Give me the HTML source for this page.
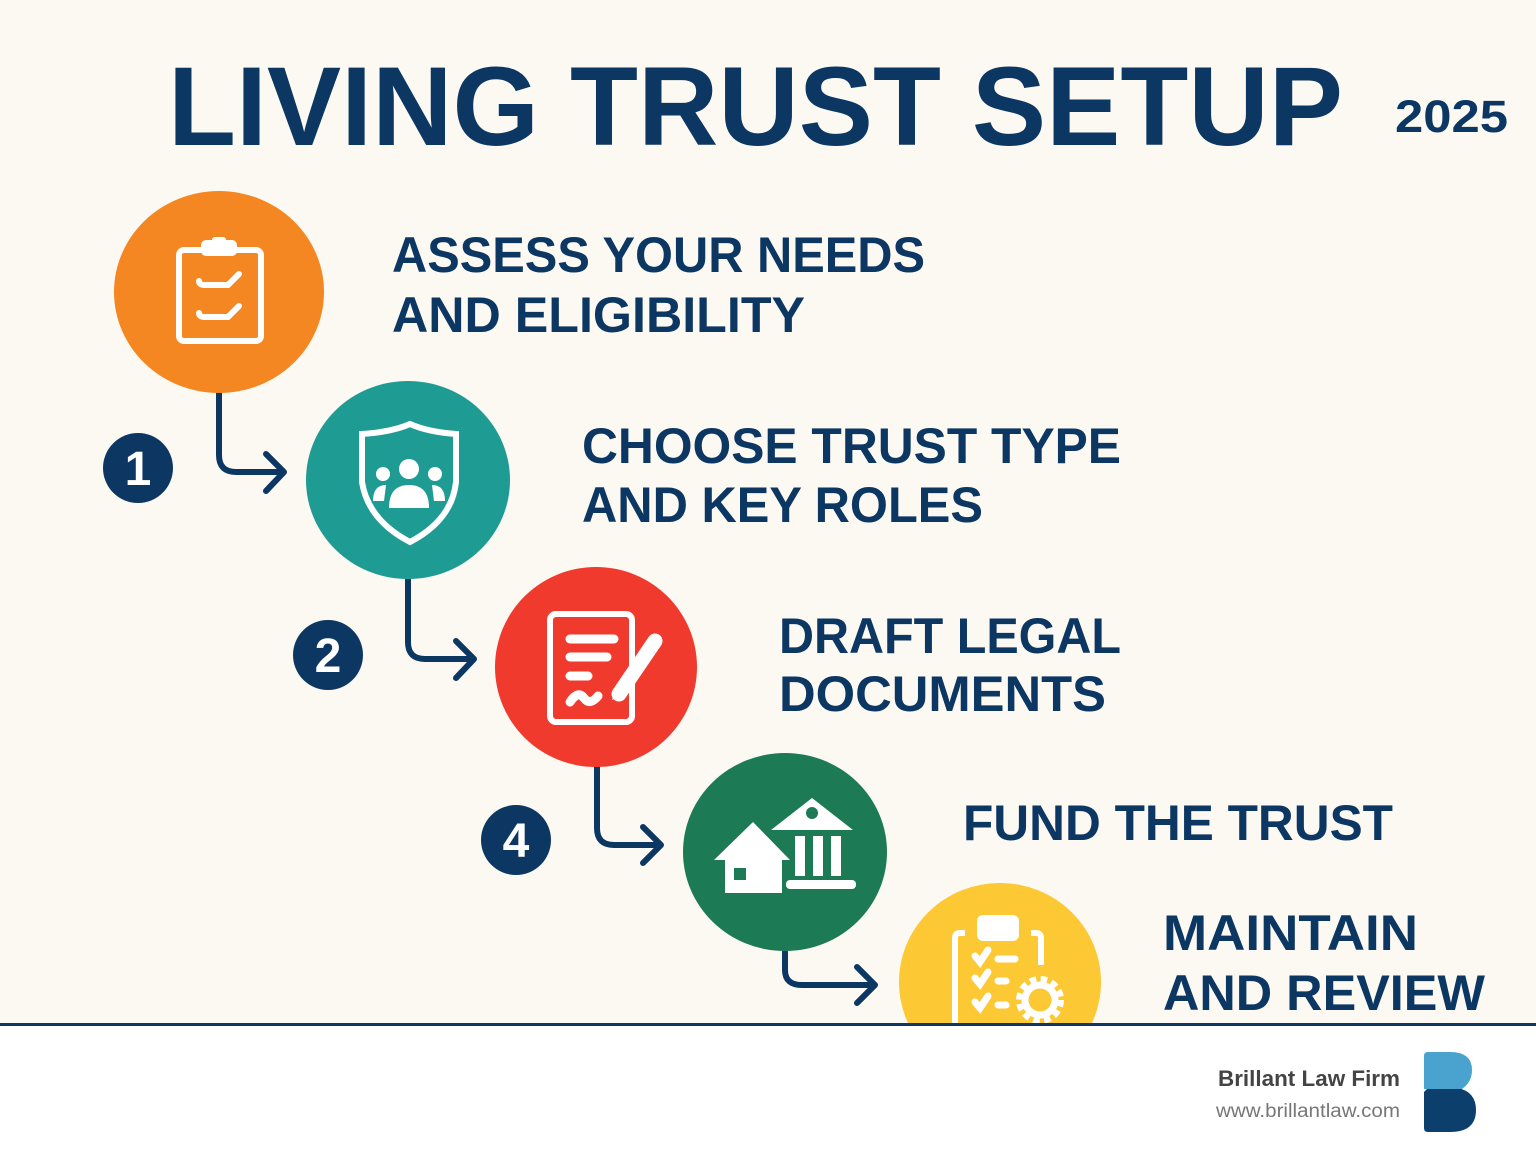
<!DOCTYPE html>
<html><head><meta charset="utf-8"><style>
html,body{margin:0;padding:0;width:1536px;height:1154px;overflow:hidden;background:#fcf9f3}
svg{display:block}
text{font-family:"Liberation Sans",sans-serif;font-weight:bold}
</style></head><body>
<svg width="1536" height="1154" viewBox="0 0 1536 1154" xmlns="http://www.w3.org/2000/svg">
<rect width="1536" height="1154" fill="#fcf9f3"/>
<defs><clipPath id="top"><rect x="0" y="0" width="1536" height="1025"/></clipPath></defs>

<text x="168" y="145" font-size="112" fill="#0d3763" textLength="1175" lengthAdjust="spacingAndGlyphs">LIVING TRUST SETUP</text>
<text x="1395" y="132" font-size="45" fill="#0d3763" textLength="113" lengthAdjust="spacingAndGlyphs">2025</text>

<g fill="#0d3763" font-size="50">
<text x="392" y="272" textLength="533" lengthAdjust="spacingAndGlyphs">ASSESS YOUR NEEDS</text>
<text x="392" y="332" textLength="413" lengthAdjust="spacingAndGlyphs">AND ELIGIBILITY</text>
<text x="582" y="463" textLength="539" lengthAdjust="spacingAndGlyphs">CHOOSE TRUST TYPE</text>
<text x="582" y="522" textLength="401" lengthAdjust="spacingAndGlyphs">AND KEY ROLES</text>
<text x="779" y="653" textLength="342" lengthAdjust="spacingAndGlyphs">DRAFT LEGAL</text>
<text x="779" y="711" textLength="327" lengthAdjust="spacingAndGlyphs">DOCUMENTS</text>
<text x="963" y="840" textLength="430" lengthAdjust="spacingAndGlyphs">FUND THE TRUST</text>
<text x="1163" y="950" textLength="255" lengthAdjust="spacingAndGlyphs">MAINTAIN</text>
<text x="1163" y="1010" textLength="322" lengthAdjust="spacingAndGlyphs">AND REVIEW</text>
</g>

<!-- connectors -->
<g fill="none" stroke="#0d3763" stroke-width="6" stroke-linecap="round" stroke-linejoin="round">
<path d="M219 393 V455 Q219 472 236 472 H283"/><path d="M266 454 L284 472 L266 491"/>
<path d="M408 580 V642 Q408 659 425 659 H473"/><path d="M456 641 L474 659 L456 678"/>
<path d="M597 767 V828 Q597 845 614 845 H660"/><path d="M643 827 L661 845 L643 863"/>
<path d="M785 952 V970 Q785 985 802 985 H874"/><path d="M857 967 L875 985 L857 1003"/>
</g>

<!-- badges -->
<g fill="#0d3763"><circle cx="138" cy="468" r="35"/><circle cx="328" cy="655" r="35"/><circle cx="516" cy="840" r="35"/></g>
<g fill="#fff" font-size="48" text-anchor="middle"><text x="138" y="485">1</text><text x="328" y="672">2</text><text x="516" y="857">4</text></g>

<!-- circle 1 -->
<ellipse cx="219" cy="292" rx="105" ry="101" fill="#f58722"/>
<g fill="none" stroke="#fff" stroke-width="6" stroke-linecap="round">
<rect x="179" y="250" width="82" height="91" rx="5"/>
<path d="M199 281 Q199 285 205 285 H228 L239 274"/><path d="M199 313 Q199 317 205 317 H228 L239 306"/>
</g>
<rect x="201" y="240" width="36" height="16" rx="5" fill="#fff"/><rect x="212" y="237" width="14" height="6" rx="3" fill="#fff"/>

<!-- circle 2 -->
<ellipse cx="408" cy="480" rx="102" ry="99" fill="#1e9c94"/>
<path d="M362 434 Q392 432 410 424 Q428 432 456 434 V482 Q452 520 410 542 Q368 520 362 482 Z" fill="none" stroke="#fff" stroke-width="6"/>
<g fill="#fff"><circle cx="409" cy="469" r="10"/><circle cx="383" cy="474" r="7"/><circle cx="435" cy="474" r="7"/>
<path d="M389 508 Q389 485 409 485 Q429 485 429 508 Z"/><path d="M373 501 Q373 485 386 485 L384 501 Z"/><path d="M445 501 Q445 485 432 485 L434 501 Z"/></g>

<!-- circle 3 -->
<ellipse cx="596" cy="667" rx="101" ry="100" fill="#f03a2e"/>
<rect x="550" y="614" width="82" height="108" rx="6" fill="none" stroke="#fff" stroke-width="6"/>
<g stroke="#fff" stroke-width="9" stroke-linecap="round" fill="none">
<path d="M570 639 H614"/><path d="M570 657 H607"/><path d="M570 676 H588"/>
<path d="M570 702 Q578 690 584 698 Q590 706 598 696"/>
<path d="M655 641 L619 694" stroke-width="15"/></g>
<path d="M612 700 L616 688 L625 694 Z" fill="#fff"/>

<!-- circle 4 -->
<ellipse cx="785" cy="852" rx="102" ry="99" fill="#1c7a54"/>
<g fill="#fff"><path d="M771 830 L812 798 L853 830 Z"/><circle cx="812" cy="813" r="6" fill="#1c7a54"/>
<rect x="795" y="836" width="10" height="40"/><rect x="813" y="836" width="10" height="40"/><rect x="831" y="836" width="10" height="40"/>
<rect x="786" y="880" width="70" height="9" rx="4"/>
<path d="M714 860 L753 822 L790 860 H782 V893 H725 V860 Z"/></g>
<rect x="734" y="868" width="12" height="12" fill="#1c7a54"/>

<!-- circle 5 -->
<g clip-path="url(#top)">
<ellipse cx="1000" cy="982" rx="101" ry="99" fill="#fcc834"/>
<g fill="none" stroke="#fff" stroke-width="6"><path d="M955 1030 V938 Q955 933 960 933 H965"/><path d="M1031 933 H1036 Q1041 933 1041 938 V965"/></g>
<rect x="977" y="915" width="42" height="26" rx="6" fill="#fff"/>
<g stroke="#fff" stroke-width="7" stroke-linecap="round" fill="none"><path d="M975 956 L980 962 L988 950"/><path d="M975 978 L980 984 L988 972"/><path d="M975 1002 L980 1008 L988 996"/>
<path d="M998 959 H1015"/><path d="M998 981 H1006"/><path d="M998 1005 H1006"/></g>
<circle cx="1040" cy="1000" r="19" fill="none" stroke="#fff" stroke-width="10" stroke-dasharray="6 4"/>
<circle cx="1040" cy="1000" r="15" fill="none" stroke="#fff" stroke-width="7"/>
</g>

<!-- footer -->
<rect x="0" y="1026" width="1536" height="128" fill="#fff"/>
<rect x="0" y="1023" width="1536" height="3" fill="#0d3763"/>
<text x="1400" y="1086" font-size="22" fill="#444" text-anchor="end" textLength="182" lengthAdjust="spacingAndGlyphs">Brillant Law Firm</text>
<text x="1400" y="1117" font-size="19" fill="#777" text-anchor="end" textLength="184" lengthAdjust="spacingAndGlyphs" style="font-weight:normal">www.brillantlaw.com</text>
<path d="M1424 1092 V1128 Q1424 1132 1428 1132 H1450 Q1476 1132 1476 1110 Q1476 1092 1458 1088 H1428 Z" fill="#0d3f6c"/>
<path d="M1424 1089 V1056 Q1424 1052 1428 1052 H1450 Q1472 1052 1472 1070 Q1472 1082 1462 1089 Z" fill="#4aa3cf"/>
</svg>
</body></html>
